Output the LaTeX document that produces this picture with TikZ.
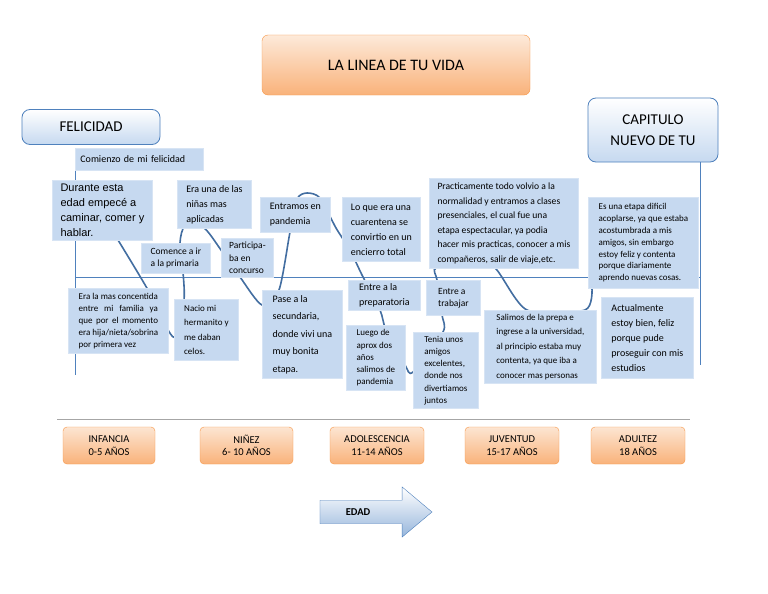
\documentclass[tikz,border=0pt]{standalone}
\usepackage{fontspec}
\setmainfont{Carlito}
\newfontfamily\arialf{Liberation Sans}
\usetikzlibrary{shapes.arrows}
\definecolor{bxfill}{RGB}{198,217,240}
\definecolor{lnblue}{RGB}{79,129,189}
\definecolor{orfill}{RGB}{251,212,180}
\definecolor{orfill2}{RGB}{249,178,122}
\definecolor{orline}{RGB}{247,150,70}
\tikzset{
 bx/.style={fill=bxfill,draw=bxfill!70!white,line width=0.8pt,inner xsep=5pt,inner ysep=3pt,align=left,font=\fontsize{10}{15}\selectfont},
 orbox/.style={rounded corners=4pt,draw=orline,top color=orfill!60!white,bottom color=orfill2,align=center,font=\fontsize{10.5}{12.5}\selectfont},
 hdr/.style={rounded corners=8pt,draw=lnblue,line width=0.8pt,top color=white,bottom color=bxfill,align=center,font=\fontsize{15}{21}\selectfont},
}
\newcommand\bx[7][]{\pgfmathsetmacro\bw{#5-#3}\pgfmathsetmacro\bh{#6-#4}%
 \node[bx,#1,minimum width=\bw pt,minimum height=\bh pt,anchor=north west] (#2) at (#3,#4) {#7};}
\newcommand\ob[6]{\pgfmathsetmacro\bw{#5-#3}\pgfmathsetmacro\bh{#6-#4}%
 \node[orbox,minimum width=\bw pt,minimum height=\bh pt] (#1) at ({(#3+#5)/2},{(#4+#6)/2}) {#2};}
\begin{document}
\begin{tikzpicture}[x=1pt,y=-1pt]
\useasboundingbox[fill=white] (0,0) rectangle (768,594);
\node[rounded corners=6pt,draw=orline,top color=orfill!50!white,bottom color=orfill2,minimum width=268pt,minimum height=60pt,font=\fontsize{16}{19}\selectfont] (title) at (396,65) {LA LINEA DE TU VIDA};
\node[hdr,minimum width=138pt,minimum height=35pt] (fel) at (91,127) {FELICIDAD};
\node[hdr,minimum width=130pt,minimum height=64pt] (cap) at (653,130) {CAPITULO\\NUEVO DE TU};
\coordinate (a1) at (75,150); \coordinate (a2) at (75,375);
\coordinate (h1) at (75,277); \coordinate (h2) at (700,277);
\coordinate (r1) at (700,162); \coordinate (r2) at (700,365);
\draw[lnblue,line width=0.9pt] (a1)--(a2) (h1)--(h2) (r1)--(r2);
\draw[lnblue!85!black,line width=1.6pt] plot[smooth,tension=0.45] coordinates{
(118,240) (148,290) (168,330) (176,336) (184,300) (183,272) (180,243) (185,226) (204,228) (221,250) (240,277) (262,305) (279,290) (290,232) (297,199) (307,193) (320,198) (336,228) (350,250) (362,275) (380,310) (386,330) (405,365) (413,372) (443,332) (442,315) (437,280) (436,268) (470,262) (495,268) (527,310) (585,310) (592,288)};
\bx[inner ysep=4pt,text width=118pt]{c0}{75}{148}{203}{170}{Comienzo de mi felicidad}
\bx[font=\arialf\fontsize{11}{15}\selectfont]{c1}{52}{180}{152}{240}{Durante esta\\edad empecé a\\caminar, comer y\\hablar.}
\bx{c2}{177}{180}{251}{228}{Era una de las\\niñas mas\\aplicadas}
\bx[font=\fontsize{9.5}{12}\selectfont,inner ysep=5pt]{c3}{141}{243}{210}{272}{Comence a ir\\a la primaria}
\bx[font=\fontsize{9.5}{12.5}\selectfont]{c4}{221}{238}{273}{277}{Participa-\\ba en\\concurso}
\bx{c5}{260}{197}{330}{232}{Entramos en\\pandemia}
\bx{c6}{342}{197}{420}{261}{Lo que era una\\cuarentena se\\convirtio en un\\encierro total}
\bx[font=\fontsize{9.6}{14.5}\selectfont]{c7}{429}{178}{578}{268}{Practicamente todo volvio a la\\normalidad y entramos a clases\\presenciales, el cual fue una\\etapa espectacular, ya podia\\hacer mis practicas, conocer a mis\\compañeros, salir de viaje,etc.}
\bx[font=\fontsize{9}{11.8}\selectfont]{c8}{588}{197}{698}{288}{Es una etapa dificil\\acoplarse, ya que estaba\\acostumbrada a mis\\amigos, sin embargo\\estoy feliz y contenta\\porque diariamente\\aprendo nuevas cosas.}
\bx[font=\fontsize{9}{12}\selectfont,align=left]{c9}{68}{288}{168}{353}{Era la mas concentida\\entre\hfill mi\hfill familia\hfill ya\\que\hfill por\hfill el\hfill momento\\era hija/nieta/sobrina\\por primera vez}
\bx[font=\fontsize{9}{14.5}\selectfont]{c10}{174}{299}{238}{360}{Nacio mi\\hermanito y\\me daban\\celos.}
\bx[font=\fontsize{10}{17.5}\selectfont]{c11}{262}{290}{342}{378}{Pase a la\\secundaria,\\donde vivi una\\muy bonita\\etapa.}
\bx{c12}{348}{280}{420}{310}{Entre a la\\preparatoria}
\bx[font=\fontsize{9}{12.2}\selectfont]{c13}{346}{325}{405}{390}{Luego de\\aprox dos\\años\\salimos de\\pandemia}
\bx[font=\fontsize{9.5}{12}\selectfont]{c14}{426}{280}{480}{315}{Entre a\\trabajar}
\bx[font=\fontsize{9}{12.2}\selectfont]{c15}{413}{332}{478}{408}{Tenia unos\\amigos\\excelentes,\\donde nos\\divertiamos\\juntos}
\bx[font=\fontsize{9}{14.5}\selectfont]{c16}{484}{310}{596}{383}{Salimos de la prepa e\\ingrese a la universidad,\\al principio estaba muy\\contenta, ya que iba a\\conocer mas personas}
\bx[font=\fontsize{10}{15}\selectfont]{c17}{601}{297}{693}{378}{Actualmente\\estoy bien, feliz\\porque pude\\proseguir con mis\\estudios}
\coordinate (s1) at (57,419); \coordinate (s2) at (690,419);
\draw[gray!70,line width=0.8pt] (s1)--(s2);
\ob{e1}{INFANCIA\\0-5 AÑOS}{63}{427}{155}{464}
\ob{e2}{NIÑEZ\\6- 10 AÑOS}{200}{427}{293}{464}
\ob{e3}{ADOLESCENCIA\\11-14 AÑOS}{330}{427}{424}{464}
\ob{e4}{JUVENTUD\\15-17 AÑOS}{465}{427}{559}{464}
\ob{e5}{ADULTEZ\\18 AÑOS}{591}{427}{685}{464}
\node[single arrow,draw=lnblue,top color=white,bottom color=bxfill!60!lnblue,minimum width=50pt,minimum height=112pt,single arrow head extend=12pt,single arrow tip angle=80,inner ysep=7pt,font=\bfseries\fontsize{10.5}{12}\selectfont] (edad) at (369,512) {\hspace*{8pt}EDAD\hspace*{30pt}};
\end{tikzpicture}
\end{document}
